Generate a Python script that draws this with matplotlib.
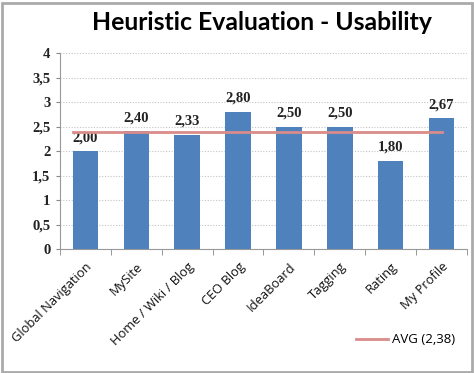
import matplotlib.pyplot as plt
import matplotlib.transforms as mtransforms
from matplotlib.patches import Rectangle
import numpy as np

categories = ["Global Navigation", "MySite", "Home / Wiki / Blog", "CEO Blog",
              "IdeaBoard", "Tagging", "Rating", "My Profile"]
scores = [2.00, 2.40, 2.33, 2.80, 2.50, 2.50, 1.80, 2.67]
avg = 2.38
ytick_labels = ["0", "0,5", "1", "1,5", "2", "2,5", "3", "3,5", "4"]

fig = plt.figure(figsize=(4.74, 3.73), dpi=100)
ax = fig.add_axes([0.1266, 0.3324, 0.8586, 0.5255])

x = np.arange(len(categories))
ax.bar(x, scores, width=0.5, color="#4F81BD", zorder=3)

# average line
ax.plot([-0.25, len(categories) - 1], [avg, avg], color="#D98C8A", lw=2,
        zorder=4, label="AVG (2,38)")

# value labels
for xi, v in zip(x, scores):
    ax.annotate(("%.2f" % v).replace(".", ","), (xi, v), xytext=(0, 5),
                textcoords="offset points", ha="center", va="bottom",
                family="Liberation Serif", fontsize=10.5, fontweight="bold",
                color="#222222")

ax.set_xlim(-0.5, len(categories) - 0.5)
ax.set_ylim(0, 4)
ax.set_yticks(np.arange(0, 4.01, 0.5))
ax.set_yticklabels(ytick_labels, family="Liberation Serif", fontsize=10.5,
                   fontweight="bold", color="#222222")
ax.yaxis.grid(True, linestyle=(0, (1, 1.5)), color="#C4C4C4", lw=0.8, zorder=0)

ax.set_xticks(x)
ax.set_xticklabels(categories, rotation=45, ha="right", va="top",
                   rotation_mode="anchor", family="Open Sans", fontsize=9.3,
                   color="#111111")
# nudge the rotated labels a bit to the left
shift = mtransforms.ScaledTranslation(-4 / 100, 0, fig.dpi_scale_trans)
for lbl in ax.get_xticklabels():
    lbl.set_transform(lbl.get_transform() + shift)
ax.tick_params(axis="x", length=0, pad=8)
ax.set_xticks(np.arange(-0.5, len(categories), 1), minor=True)
ax.tick_params(axis="x", which="minor", length=4, color="#888888")
ax.tick_params(axis="y", length=3, color="#888888", pad=4)

for s in ["top", "right"]:
    ax.spines[s].set_visible(False)
for s in ["left", "bottom"]:
    ax.spines[s].set_color("#999999")

fig.text(0.553, 0.941, "Heuristic Evaluation - Usability", ha="center",
         va="center", family="Lato", fontweight="bold", fontsize=17.8)

fig.legend(loc="lower right", bbox_to_anchor=(0.985, 0.04), frameon=False,
           prop={"family": "Open Sans", "size": 9.5}, handlelength=2.4,
           handletextpad=0.3)

fig.patches.append(Rectangle((0.004, 0.004), 0.992, 0.988, transform=fig.transFigure,
                             fill=False, edgecolor="#AAAAAA", lw=2))

fig.savefig("out.png", dpi=100)
